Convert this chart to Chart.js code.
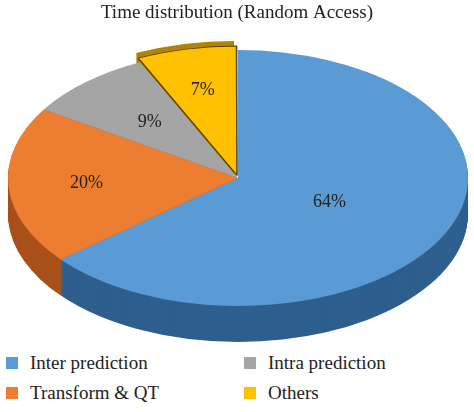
<!DOCTYPE html>
<html>
<head>
<meta charset="utf-8">
<script src="https://cdn.jsdelivr.net/npm/chart.js@4.4.0/dist/chart.umd.min.js"></script>
<style>
  body { margin: 0; background: #fff; font-family: "Liberation Serif", "DejaVu Serif", serif; }
  #wrap { width: 474px; height: 352px; }
  #legend { display: grid; grid-template-columns: 238px 236px; row-gap: 8px; margin-top: 0; font-size: 19px; color: #222; }
  #legend div { display: flex; align-items: center; padding-left: 6px; }
  #legend span { display: inline-block; width: 12px; height: 12px; margin-right: 12px; }
</style>
</head>
<body>
<div id="wrap"><canvas id="pie" width="474" height="352"></canvas></div>
<div id="legend"></div>
<script>
// chart data
const labels = ['Inter prediction', 'Transform & QT', 'Intra prediction', 'Others'];
const values = [64, 20, 9, 7];
const colors = ['#5b9bd5', '#ed7d31', '#a5a5a5', '#ffc000'];
const sideColors = ['#2e5f8e', '#a9511b', '#6e6e6e', '#b08400'];
const legendOrder = [0, 2, 1, 3];

const CX = 238, CY = 178, RX = 230, RY = 128, DEPTH = 36;

function arcPath(ctx, a, ox, oy) {
  ctx.beginPath();
  ctx.moveTo(a.x + ox, a.y + oy);
  ctx.arc(a.x + ox, a.y + oy, a.outerRadius, a.startAngle, a.endAngle);
  ctx.closePath();
}

function offsetOf(a, i) {
  const off = i === 3 ? 12 : 0;
  const mid = (a.startAngle + a.endAngle) / 2;
  return [Math.cos(mid) * off, Math.sin(mid) * off];
}

// squash the pie into an ellipse and give it some depth
const tilt = {
  id: 'tilt',
  beforeDatasetsDraw(chart) {
    const ctx = chart.ctx;
    const arcs = chart.getDatasetMeta(0).data;
    const a0 = arcs[0];
    const sx = RX / a0.outerRadius, sy = RY / a0.outerRadius;
    for (let d = DEPTH; d > 0; d--) {
      arcs.forEach((a, i) => {
        const [ox, oy] = offsetOf(a, i);
        ctx.save();
        ctx.translate(CX, CY + d);
        ctx.scale(sx, sy);
        ctx.translate(-a0.x, -a0.y);
        arcPath(ctx, a, ox, oy);
        ctx.fillStyle = sideColors[i];
        ctx.fill();
        ctx.restore();
      });
    }
    ctx.save();
    ctx.translate(CX, CY);
    ctx.scale(sx, sy);
    ctx.translate(-a0.x, -a0.y);
  },
  afterDatasetsDraw(chart) {
    const ctx = chart.ctx;
    ctx.restore();
    const arcs = chart.getDatasetMeta(0).data;
    const a0 = arcs[0];
    const sx = RX / a0.outerRadius, sy = RY / a0.outerRadius;
    const pos = [0.44, 0.66, 0.58, 0.62];
    ctx.font = '18px "Liberation Serif", serif';
    ctx.fillStyle = '#222';
    ctx.textAlign = 'center';
    ctx.textBaseline = 'middle';
    arcs.forEach((a, i) => {
      const [ox, oy] = offsetOf(a, i);
      const mid = (a.startAngle + a.endAngle) / 2;
      const r = a.outerRadius * pos[i];
      const x = CX + (Math.cos(mid) * r + ox) * sx;
      const y = CY + (Math.sin(mid) * r + oy) * sy;
      ctx.fillText(values[i] + '%', x, y);
    });
  }
};

new Chart(document.getElementById('pie'), {
  type: 'pie',
  data: {
    labels: labels,
    datasets: [{
      data: values,
      backgroundColor: colors,
      borderColor: ['#ffffff', '#ffffff', '#ffffff', '#5a4300'],
      borderWidth: [0, 0, 0, 1],
      offset: [0, 0, 0, 12]
    }]
  },
  options: {
    responsive: false,
    animation: false,
    layout: { padding: { top: 0, bottom: 10 } },
    plugins: {
      legend: { display: false },
      tooltip: { enabled: false },
      title: {
        display: true,
        text: 'Time distribution (Random Access)',
        color: '#222',
        font: { family: '"Liberation Serif", serif', size: 19, weight: 'normal' },
        padding: { top: 2, bottom: 8 }
      }
    }
  },
  plugins: [tilt]
});

const lg = document.getElementById('legend');
legendOrder.forEach(i => {
  const d = document.createElement('div');
  d.innerHTML = '<span style="background:' + colors[i] + '"></span>' + labels[i];
  lg.appendChild(d);
});
</script>
</body>
</html>
